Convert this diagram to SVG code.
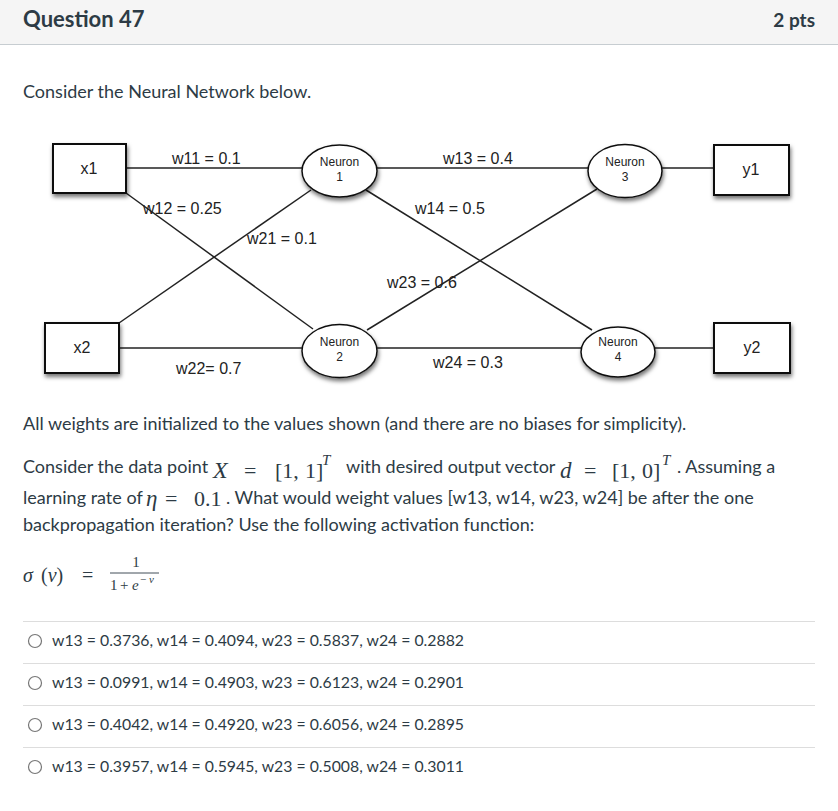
<svg xmlns="http://www.w3.org/2000/svg" width="838" height="811" viewBox="0 0 838 811">
<defs>
<filter id="sh" x="-20%" y="-20%" width="150%" height="160%">
<feDropShadow dx="1" dy="3" stdDeviation="2" flood-color="#000" flood-opacity="0.55"/>
</filter>
<style>
.t{font-family:Lato,"Open Sans","Liberation Sans",sans-serif;fill:#2d3b45;font-size:18px}
.o{font-family:Lato,"Open Sans","Liberation Sans",sans-serif;fill:#2d3b45;font-size:15.8px}
.h{font-family:Lato,"Open Sans","Liberation Sans",sans-serif;fill:#2d3b45;font-weight:bold}
.m{font-family:"Liberation Serif","DejaVu Serif",serif;fill:#2d3b45}
.mi{font-family:"Liberation Serif","DejaVu Serif",serif;fill:#2d3b45;font-style:italic}
.box{fill:#fff;stroke:#111;stroke-width:2}
.neu{fill:#fff;stroke:#111;stroke-width:1.5}
.ln{stroke:#222;stroke-width:1.5;fill:none}
.lbl{font-family:"Liberation Sans",Arial,sans-serif;font-size:16px;fill:#222}
.bt{font-family:"Liberation Sans",Arial,sans-serif;font-size:16px;fill:#222;text-anchor:middle}
.nt{font-family:"Liberation Sans",Arial,sans-serif;font-size:12px;fill:#222;text-anchor:middle}
.sep{stroke:#dddddd;stroke-width:1}
.rad{fill:#fff;stroke:#777;stroke-width:1.2}
</style>
</defs>
<rect x="0" y="0" width="838" height="811" fill="#fff"/>
<g id="header">
<rect x="0" y="0" width="838" height="44" fill="#f5f5f5"/>
<line x1="0" y1="44.5" x2="838" y2="44.5" stroke="#c7cdd1" stroke-width="1"/>
<text class="h" x="23" y="27" font-size="22">Question 47</text>
<text class="h" x="815" y="27" font-size="19" text-anchor="end">2 pts</text>
</g>
<text class="t" x="23" y="98">Consider the Neural Network below.</text>

<g id="connectors">
<line class="ln" x1="126" y1="168" x2="302" y2="168"/>
<line class="ln" x1="377" y1="168" x2="588" y2="168"/>
<line class="ln" x1="662" y1="168" x2="714" y2="168"/>
<line class="ln" x1="119" y1="348" x2="302" y2="348"/>
<line class="ln" x1="377" y1="348" x2="581" y2="348"/>
<line class="ln" x1="655" y1="348" x2="714" y2="348"/>
<line class="ln" x1="126" y1="193" x2="313" y2="329"/>
<line class="ln" x1="119" y1="323" x2="311" y2="190"/>
<line class="ln" x1="366" y1="190" x2="592" y2="330"/>
<line class="ln" x1="367" y1="330" x2="597" y2="189"/>
</g>
<g id="labels">
<text class="lbl" x="172" y="164">w11 = 0.1</text>
<text class="lbl" x="143" y="214">w12 = 0.25</text>
<text class="lbl" x="247" y="244">w21 = 0.1</text>
<text class="lbl" x="443" y="164">w13 = 0.4</text>
<text class="lbl" x="415" y="214">w14 = 0.5</text>
<text class="lbl" x="387" y="288">w23 = 0.6</text>
<text class="lbl" x="176" y="374">w22= 0.7</text>
<text class="lbl" x="433" y="368">w24 = 0.3</text>
</g>
<g id="x1"><rect class="box" x="53" y="144" width="73" height="49" filter="url(#sh)"/><text class="bt" x="89" y="174">x1</text></g>
<g id="x2"><rect class="box" x="45" y="323" width="74" height="50" filter="url(#sh)"/><text class="bt" x="82" y="353">x2</text></g>
<g id="y1"><rect class="box" x="714" y="145" width="75" height="50" filter="url(#sh)"/><text class="bt" x="751" y="175">y1</text></g>
<g id="y2"><rect class="box" x="714" y="323" width="76" height="50" filter="url(#sh)"/><text class="bt" x="752" y="353">y2</text></g>
<g id="n1"><ellipse class="neu" cx="339.5" cy="171" rx="37.5" ry="26" filter="url(#sh)"/><text class="nt" x="339.5" y="166">Neuron</text><text class="nt" x="339.5" y="181">1</text></g>
<g id="n3"><ellipse class="neu" cx="625" cy="171" rx="37" ry="26.5" filter="url(#sh)"/><text class="nt" x="625" y="166">Neuron</text><text class="nt" x="625" y="181">3</text></g>
<g id="n2"><ellipse class="neu" cx="339.5" cy="351" rx="37.5" ry="26.5" filter="url(#sh)"/><text class="nt" x="339.5" y="346">Neuron</text><text class="nt" x="339.5" y="361">2</text></g>
<g id="n4"><ellipse class="neu" cx="618" cy="352" rx="37" ry="25" filter="url(#sh)"/><text class="nt" x="618" y="346">Neuron</text><text class="nt" x="618" y="361">4</text></g>

<g id="question">
<text class="t" x="23" y="430">All weights are initialized to the values shown (and there are no biases for simplicity).</text>
<text class="t" x="23" y="473">Consider the data point</text>
<text class="mi" x="213" y="478" font-size="24">X</text>
<text class="m" x="244" y="478" font-size="22">=</text>
<text class="m" x="275" y="478" font-size="22">[1,<tspan x="305">1]</tspan></text>
<text class="mi" x="322" y="465" font-size="15">T</text>
<text class="t" x="346" y="473">with desired output vector</text>
<text class="mi" x="560" y="478" font-size="23">d</text>
<text class="m" x="584" y="478" font-size="22">=</text>
<text class="m" x="612" y="478" font-size="22">[1,<tspan x="642">0]</tspan></text>
<text class="mi" x="662" y="465" font-size="15">T</text>
<text class="t" x="677" y="473">. Assuming a</text>
<text class="t" x="23" y="504">learning rate of</text>
<text class="mi" x="146" y="506" font-size="23">η</text>
<text class="m" x="165" y="506" font-size="22">=</text>
<text class="m" x="194" y="506" font-size="22">0.1</text>
<text class="t" x="226" y="504">. What would weight values [w13, w14, w23, w24] be after the one</text>
<text class="t" x="23" y="531">backpropagation iteration? Use the following activation function:</text>
<text class="mi" x="23" y="582" font-size="20">σ</text>
<text class="m" x="41" y="582" font-size="20">(<tspan class="mi">v</tspan>)</text>
<text class="m" x="82" y="582" font-size="20">=</text>
<text class="m" x="136" y="567" font-size="15" text-anchor="middle">1</text>
<line x1="110" y1="573" x2="159" y2="573" stroke="#2d3b45" stroke-width="0.9"/>
<text class="m" x="110" y="590" font-size="15">1<tspan x="120">+</tspan><tspan class="mi" x="132">e</tspan></text>
<text class="m" x="140" y="583" font-size="11">−<tspan class="mi" x="149">v</tspan></text>
</g>

<g id="options">
<line class="sep" x1="23" y1="621.5" x2="815" y2="621.5"/>
<line class="sep" x1="23" y1="663.5" x2="815" y2="663.5"/>
<line class="sep" x1="23" y1="705.5" x2="815" y2="705.5"/>
<line class="sep" x1="23" y1="747.5" x2="815" y2="747.5"/>
<circle class="rad" cx="35" cy="641" r="6.5"/>
<circle class="rad" cx="35" cy="683" r="6.5"/>
<circle class="rad" cx="35" cy="725" r="6.5"/>
<circle class="rad" cx="35" cy="767" r="6.5"/>
<text class="o" x="52" y="646">w13 = 0.3736, w14 = 0.4094, w23 = 0.5837, w24 = 0.2882</text>
<text class="o" x="52" y="688">w13 = 0.0991, w14 = 0.4903, w23 = 0.6123, w24 = 0.2901</text>
<text class="o" x="52" y="730">w13 = 0.4042, w14 = 0.4920, w23 = 0.6056, w24 = 0.2895</text>
<text class="o" x="52" y="772">w13 = 0.3957, w14 = 0.5945, w23 = 0.5008, w24 = 0.3011</text>
</g>
</svg>
